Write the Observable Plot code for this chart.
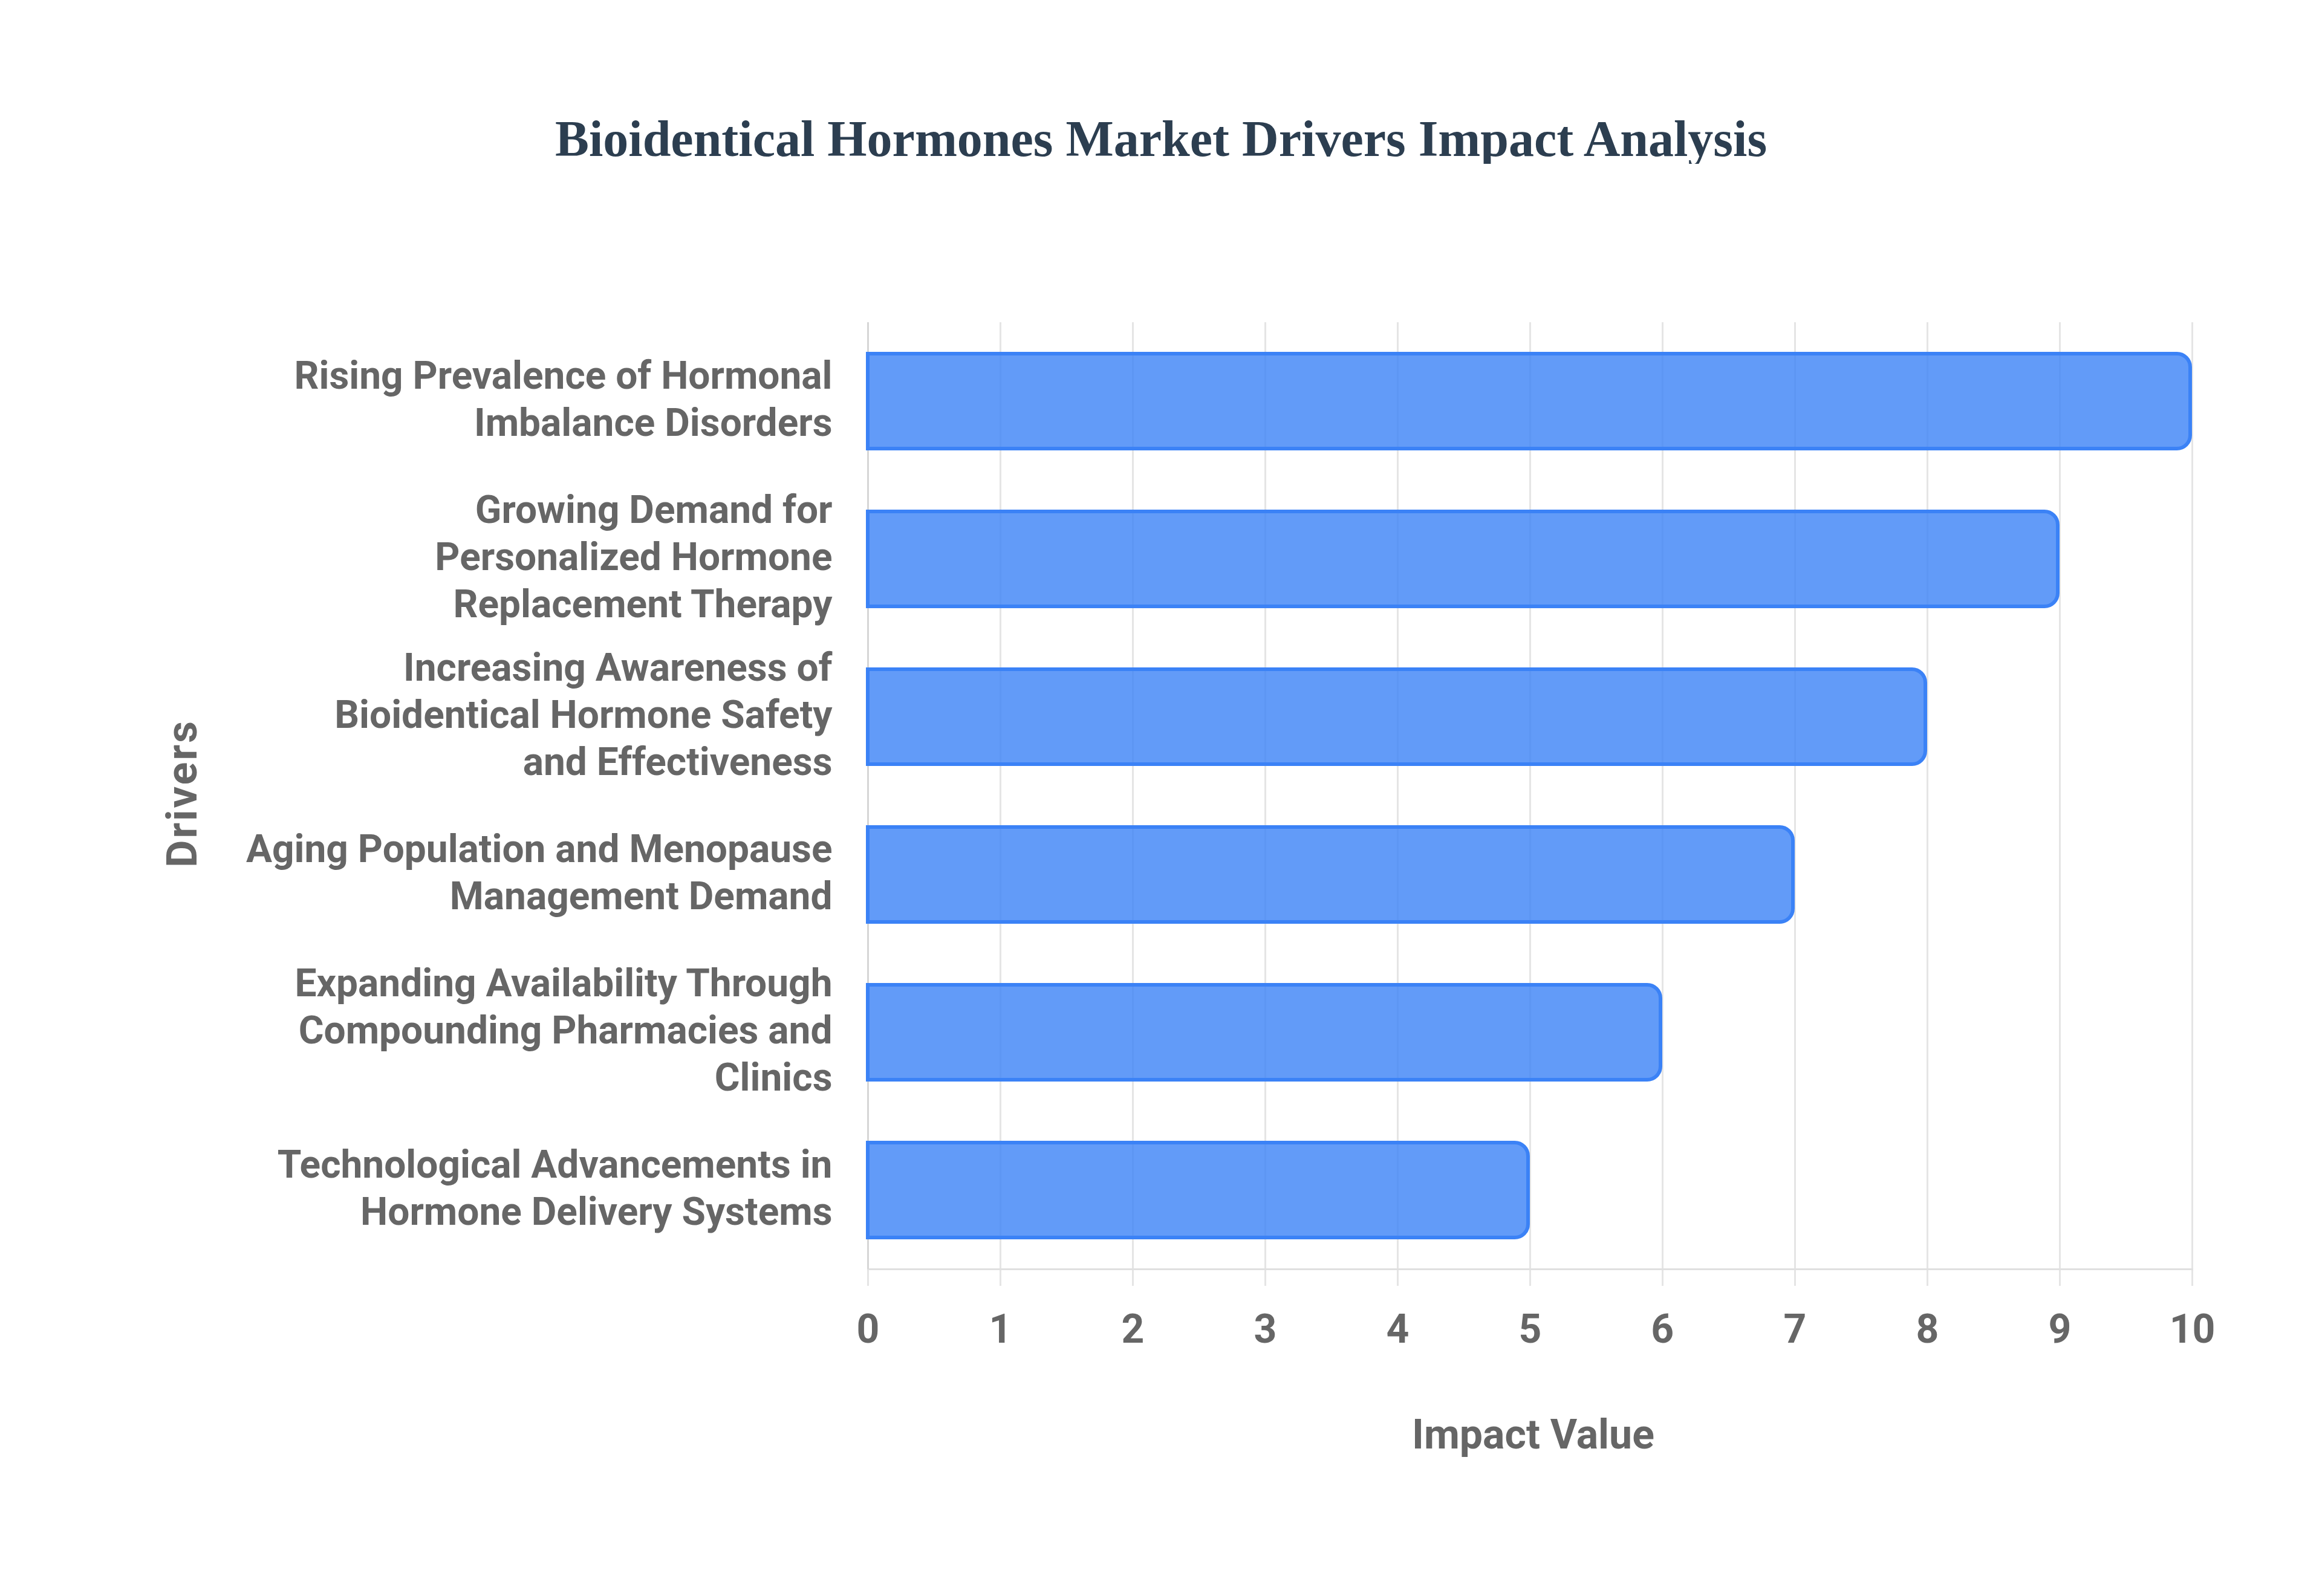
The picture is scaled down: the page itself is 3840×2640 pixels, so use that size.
<!DOCTYPE html>
<html>
<head>
<meta charset="utf-8">
<script src="https://cdn.jsdelivr.net/npm/d3@7"></script>
<script src="https://cdn.jsdelivr.net/npm/@observablehq/plot@0.6"></script>
<style>
html, body { margin: 0; padding: 0; background: #ffffff; }
#wrap { width: 3840px; height: 2640px; position: relative; overflow: hidden; background: #ffffff; }
#title { position: absolute; left: 0; top: 188px; width: 3840px; text-align: center;
  font-family: "Liberation Serif", "Times New Roman", serif; font-weight: bold;
  font-size: 84px; line-height: 83px; color: #2c3e50; margin: 0; }
#chart { position: absolute; left: 0; top: 271px; }
.ytitle text { letter-spacing: 3px; }
</style>
</head>
<body>
<div id="wrap">
  <div id="title">Bioidentical Hormones Market Drivers Impact Analysis</div>
  <div id="chart"></div>
</div>
<script>
const drivers = [
  "Rising Prevalence of Hormonal Imbalance Disorders",
  "Growing Demand for Personalized Hormone Replacement Therapy",
  "Increasing Awareness of Bioidentical Hormone Safety and Effectiveness",
  "Aging Population and Menopause Management Demand",
  "Expanding Availability Through Compounding Pharmacies and Clinics",
  "Technological Advancements in Hormone Delivery Systems"
];
const impact = [10, 9, 8, 7, 6, 5];
const tickLabels = [
  "Rising Prevalence of Hormonal\nImbalance Disorders",
  "Growing Demand for\nPersonalized Hormone\nReplacement Therapy",
  "Increasing Awareness of\nBioidentical Hormone Safety\nand Effectiveness",
  "Aging Population and Menopause\nManagement Demand",
  "Expanding Availability Through\nCompounding Pharmacies and\nClinics",
  "Technological Advancements in\nHormone Delivery Systems"
];
const xTicks = [0, 1, 2, 3, 4, 5, 6, 7, 8, 9, 10];
const xTitle = "Impact Value";
const yTitle = "Drivers";

const data = drivers.map((d, i) => ({driver: d, value: impact[i]}));
const labelOf = new Map(drivers.map((d, i) => [d, tickLabels[i]]));
const font = 'Roboto, "Liberation Sans", Arial, sans-serif';

const plot = Plot.plot({
  width: 3840,
  height: 2369,
  marginTop: 262,
  marginBottom: 541,
  marginLeft: 1435,
  marginRight: 215,
  style: {fontFamily: font, fontWeight: "bold", fontSize: "66px", color: "#666666", background: "#ffffff", overflow: "visible"},
  x: {domain: [0, 10]},
  y: {domain: drivers, paddingInner: 0.375, paddingOuter: 0.1875},
  marks: [
    Plot.gridX(xTicks, {stroke: "#e5e5e5", strokeOpacity: 1, strokeWidth: 3}),
    Plot.axisX(xTicks, {tickSize: 28, tickPadding: 47, stroke: "#e5e5e5", strokeWidth: 3, fill: "#666666",
      fontSize: 66, fontWeight: "bold", label: null, tickFormat: d => String(d)}),
    Plot.frame({anchor: "bottom", stroke: "#e0e0e0", strokeWidth: 3}),
    Plot.ruleX([0], {stroke: "#d6d6d6", strokeWidth: 3}),
    Plot.axisY({tickSize: 0, tickPadding: 59, dy: -7, tickFormat: d => labelOf.get(d), fontSize: 64,
      fontWeight: "bold", lineHeight: 1.22, label: null, fill: "#666666"}),
    Plot.barX(data, {y: "driver", x: "value", fill: "rgba(59,130,246,0.8)", stroke: "#3b82f6",
      strokeWidth: 6, rx2: 22, insetTop: 3, insetBottom: 3, insetRight: 3}),
    Plot.text([yTitle], {text: d => d, frameAnchor: "left", dx: -1133, dy: -4, rotate: -90, fontSize: 70,
      fontWeight: "bold", fill: "#666666", lineAnchor: "middle", textAnchor: "middle", className: "ytitle"}),
    Plot.text([xTitle], {text: d => d, frameAnchor: "bottom", dy: 275, dx: 5, fontSize: 68,
      fontWeight: "bold", fill: "#666666", lineAnchor: "middle", textAnchor: "middle"})
  ]
});
document.getElementById("chart").appendChild(plot);
</script>
</body>
</html>
